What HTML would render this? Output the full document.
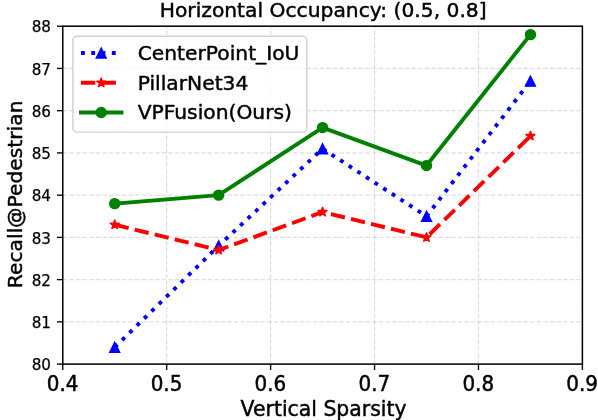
<!DOCTYPE html>
<html><head><meta charset="utf-8"><title>chart</title><style>html,body{margin:0;padding:0;background:#fff;overflow:hidden}</style></head><body>
<svg width="598" height="420" viewBox="0 0 598 420" style="display:block;font-family:'DejaVu Sans','Liberation Sans',sans-serif">
<style>text{stroke:#000;stroke-width:0.45px;stroke-linejoin:round}.y text{stroke-width:0.25px}</style>
<rect width="598" height="420" fill="#fff"/>
<g stroke="#b0b0b0" stroke-opacity="0.4" stroke-width="1.24" stroke-dasharray="4.595 1.987" fill="none">
<path d="M62.75 364.10V26.20"/>
<path d="M166.68 364.10V26.20"/>
<path d="M270.61 364.10V26.20"/>
<path d="M374.54 364.10V26.20"/>
<path d="M478.47 364.10V26.20"/>
<path d="M582.40 364.10V26.20"/>
<path d="M62.75 364.10H582.40"/>
<path d="M62.75 321.86H582.40"/>
<path d="M62.75 279.62H582.40"/>
<path d="M62.75 237.39H582.40"/>
<path d="M62.75 195.15H582.40"/>
<path d="M62.75 152.91H582.40"/>
<path d="M62.75 110.68H582.40"/>
<path d="M62.75 68.44H582.40"/>
<path d="M62.75 26.20H582.40"/>
</g>
<g stroke="#000" stroke-width="1.35">
<path d="M62.75 364.10v5.8"/>
<path d="M166.68 364.10v5.8"/>
<path d="M270.61 364.10v5.8"/>
<path d="M374.54 364.10v5.8"/>
<path d="M478.47 364.10v5.8"/>
<path d="M582.40 364.10v5.8"/>
<path d="M62.75 364.10h-5.8"/>
<path d="M62.75 321.86h-5.8"/>
<path d="M62.75 279.62h-5.8"/>
<path d="M62.75 237.39h-5.8"/>
<path d="M62.75 195.15h-5.8"/>
<path d="M62.75 152.91h-5.8"/>
<path d="M62.75 110.68h-5.8"/>
<path d="M62.75 68.44h-5.8"/>
<path d="M62.75 26.20h-5.8"/>
</g>
<g font-size="20.25px" text-anchor="middle" fill="#000">
<text transform="translate(62.55 390.75) scale(0.985 1.085)">0.4</text>
<text transform="translate(166.48 390.75) scale(0.985 1.085)">0.5</text>
<text transform="translate(270.41 390.75) scale(0.985 1.085)">0.6</text>
<text transform="translate(374.34 390.75) scale(0.985 1.085)">0.7</text>
<text transform="translate(478.27 390.75) scale(0.985 1.085)">0.8</text>
<text transform="translate(582.20 390.75) scale(0.985 1.085)">0.9</text>
</g>
<g font-size="15.2px" text-anchor="end" fill="#000" class="y">
<text x="51.0" y="370.25">80</text>
<text x="51.0" y="328.01">81</text>
<text x="51.0" y="285.77">82</text>
<text x="51.0" y="243.54">83</text>
<text x="51.0" y="201.30">84</text>
<text x="51.0" y="159.06">85</text>
<text x="51.0" y="116.83">86</text>
<text x="51.0" y="74.59">87</text>
<text x="51.0" y="32.35">88</text>
</g>
<clipPath id="c"><rect x="62.75" y="26.2" width="519.65" height="337.90000000000003"/></clipPath>
<g clip-path="url(#c)">
<polyline points="114.71,347.20 218.65,245.84 322.57,148.69 426.50,216.27 530.43,81.11" fill="none" stroke="#00f" stroke-width="3.88" stroke-dasharray="3.88 6.40" stroke-linejoin="round"/>
<path d="M114.71 342.14L109.65 352.27L119.78 352.27Z" fill="#00f" stroke="#00f" stroke-width="1.27" stroke-linejoin="miter"/>
<path d="M218.65 240.77L213.58 250.90L223.71 250.90Z" fill="#00f" stroke="#00f" stroke-width="1.27" stroke-linejoin="miter"/>
<path d="M322.57 143.63L317.51 153.75L327.64 153.75Z" fill="#00f" stroke="#00f" stroke-width="1.27" stroke-linejoin="miter"/>
<path d="M426.50 211.21L421.44 221.33L431.57 221.33Z" fill="#00f" stroke="#00f" stroke-width="1.27" stroke-linejoin="miter"/>
<path d="M530.43 76.05L525.37 86.17L535.50 86.17Z" fill="#00f" stroke="#00f" stroke-width="1.27" stroke-linejoin="miter"/>
<polyline points="114.71,224.72 218.65,250.06 322.57,212.05 426.50,237.39 530.43,136.02" fill="none" stroke="#f00" stroke-width="3.88" stroke-dasharray="14.36 6.21" stroke-linejoin="round"/>
<path d="M114.71 219.65L115.85 223.15L119.53 223.15L116.55 225.31L117.69 228.81L114.71 226.65L111.74 228.81L112.88 225.31L109.90 223.15L113.58 223.15Z" fill="#f00" stroke="#f00" stroke-width="1.27" stroke-linejoin="bevel"/>
<path d="M218.65 245.00L219.78 248.49L223.46 248.49L220.48 250.66L221.62 254.15L218.65 251.99L215.67 254.15L216.81 250.66L213.83 248.49L217.51 248.49Z" fill="#f00" stroke="#f00" stroke-width="1.27" stroke-linejoin="bevel"/>
<path d="M322.57 206.98L323.71 210.48L327.39 210.48L324.41 212.64L325.55 216.14L322.57 213.98L319.60 216.14L320.74 212.64L317.76 210.48L321.44 210.48Z" fill="#f00" stroke="#f00" stroke-width="1.27" stroke-linejoin="bevel"/>
<path d="M426.50 232.33L427.64 235.82L431.32 235.82L428.34 237.99L429.48 241.48L426.50 239.32L423.53 241.48L424.67 237.99L421.69 235.82L425.37 235.82Z" fill="#f00" stroke="#f00" stroke-width="1.27" stroke-linejoin="bevel"/>
<path d="M530.43 130.96L531.57 134.45L535.25 134.45L532.27 136.62L533.41 140.11L530.43 137.95L527.46 140.11L528.60 136.62L525.62 134.45L529.30 134.45Z" fill="#f00" stroke="#f00" stroke-width="1.27" stroke-linejoin="bevel"/>
<polyline points="114.71,203.60 218.65,195.15 322.57,127.57 426.50,165.58 530.43,34.65" fill="none" stroke="#008000" stroke-width="3.88" stroke-linejoin="round" stroke-linecap="square"/>
<circle cx="114.71" cy="203.60" r="5.06" fill="#008000" stroke="#008000" stroke-width="1.27"/>
<circle cx="218.65" cy="195.15" r="5.06" fill="#008000" stroke="#008000" stroke-width="1.27"/>
<circle cx="322.57" cy="127.57" r="5.06" fill="#008000" stroke="#008000" stroke-width="1.27"/>
<circle cx="426.50" cy="165.58" r="5.06" fill="#008000" stroke="#008000" stroke-width="1.27"/>
<circle cx="530.43" cy="34.65" r="5.06" fill="#008000" stroke="#008000" stroke-width="1.27"/>
</g>
<rect x="62.75" y="26.2" width="519.65" height="337.90000000000003" fill="none" stroke="#000" stroke-width="1.50"/>
<text x="323.18" y="16.7" font-size="20.25px" text-anchor="middle">Horizontal Occupancy: (0.5, 0.8]</text>
<text x="323.57" y="416.0" font-size="20.4px" text-anchor="middle">Vertical Sparsity</text>
<text transform="translate(21.7 194.35) rotate(-90)" font-size="20.25px" text-anchor="middle">Recall@Pedestrian</text>
<rect x="72.88" y="36.33" width="233.90" height="95.80" rx="4.05" fill="#fff" fill-opacity="0.8" stroke="#ccc" stroke-opacity="0.9" stroke-width="1.45"/>
<path d="M80.97 53.0H120.47" stroke="#00f" stroke-width="3.88" stroke-dasharray="3.88 6.40"/>
<path d="M101.22 47.94L96.16 58.06L106.29 58.06Z" fill="#00f" stroke="#00f" stroke-width="1.27"/>
<text x="137.67" y="59.7" font-size="20.25px">CenterPoint_IoU</text>
<path d="M80.97 82.8H120.47" stroke="#f00" stroke-width="3.88" stroke-dasharray="14.36 6.21"/>
<path d="M101.22 77.74L102.36 81.24L106.04 81.24L103.06 83.40L104.20 86.90L101.22 84.73L98.25 86.90L99.39 83.40L96.41 81.24L100.09 81.24Z" fill="#f00" stroke="#f00" stroke-width="1.27" stroke-linejoin="bevel"/>
<text x="137.67" y="89.5" font-size="20.25px">PillarNet34</text>
<path d="M80.97 112.5H121.47" stroke="#008000" stroke-width="3.88" stroke-linecap="square"/>
<circle cx="101.22" cy="112.5" r="5.06" fill="#008000" stroke="#008000" stroke-width="1.27"/>
<text x="137.67" y="119.3" font-size="20.25px">VPFusion(Ours)</text>
</svg>
</body></html>
